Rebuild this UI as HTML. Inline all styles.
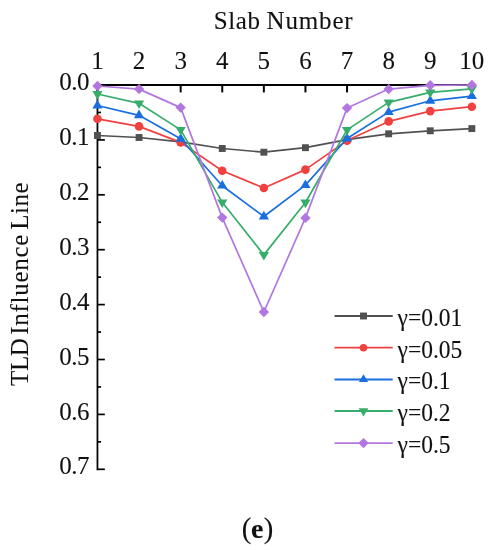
<!DOCTYPE html>
<html><head><meta charset="utf-8"><title>TLD Influence Line (e)</title>
<style>
html,body{margin:0;padding:0;background:#fff;}
body{width:491px;height:550px;position:relative;overflow:hidden;font-family:"Liberation Serif",serif;}
svg text{font-family:"Liberation Serif",serif;fill:#111;stroke:#111;stroke-width:0.1px;}
.tk{font-size:25px;}
.ti{font-size:25px;}
.ytk{font-size:25px;letter-spacing:-0.6px;}
.yl{font-size:25px;}
.lg{font-size:24.5px;}
.cap{font-size:28px;}
</style></head><body>
<svg width="491" height="550" viewBox="0 0 491 550" style="position:absolute;left:0;top:0">
<g stroke="#000" stroke-width="2" fill="none" stroke-linecap="butt">
<path d="M97.45 84.0 V470.15000000000003" stroke-width="1.75"/>
<path d="M96.45 85.0 H472.85"/>
<path d="M97.45 85.00 h7.4" stroke-width="1.7"/>
<path d="M97.45 112.45 h3.6" stroke-width="1.7"/>
<path d="M97.45 139.90 h7.4" stroke-width="1.7"/>
<path d="M97.45 167.35 h3.6" stroke-width="1.7"/>
<path d="M97.45 194.80 h7.4" stroke-width="1.7"/>
<path d="M97.45 222.25 h3.6" stroke-width="1.7"/>
<path d="M97.45 249.70 h7.4" stroke-width="1.7"/>
<path d="M97.45 277.15 h3.6" stroke-width="1.7"/>
<path d="M97.45 304.60 h7.4" stroke-width="1.7"/>
<path d="M97.45 332.05 h3.6" stroke-width="1.7"/>
<path d="M97.45 359.50 h7.4" stroke-width="1.7"/>
<path d="M97.45 386.95 h3.6" stroke-width="1.7"/>
<path d="M97.45 414.40 h7.4" stroke-width="1.7"/>
<path d="M97.45 441.85 h3.6" stroke-width="1.7"/>
<path d="M97.45 469.30 h7.4" stroke-width="1.7"/>
<path d="M97.45 85.0 v7.4"/>
<path d="M139.05 85.0 v7.4"/>
<path d="M180.65 85.0 v7.4"/>
<path d="M222.25 85.0 v7.4"/>
<path d="M263.85 85.0 v7.4"/>
<path d="M305.45 85.0 v7.4"/>
<path d="M347.05 85.0 v7.4"/>
<path d="M388.65 85.0 v7.4"/>
<path d="M430.25 85.0 v7.4"/>
<path d="M471.85 85.0 v7.4"/>
</g>
<polyline points="97.45,135.50 139.05,137.50 180.65,141.80 222.25,148.50 263.85,152.20 305.45,147.70 347.05,139.70 388.65,133.80 430.25,130.80 471.85,128.60" fill="none" stroke="#515151" stroke-width="1.7" stroke-linejoin="round"/>
<rect x="94.00" y="132.05" width="6.9" height="6.9" fill="#515151"/>
<rect x="135.60" y="134.05" width="6.9" height="6.9" fill="#515151"/>
<rect x="177.20" y="138.35" width="6.9" height="6.9" fill="#515151"/>
<rect x="218.80" y="145.05" width="6.9" height="6.9" fill="#515151"/>
<rect x="260.40" y="148.75" width="6.9" height="6.9" fill="#515151"/>
<rect x="302.00" y="144.25" width="6.9" height="6.9" fill="#515151"/>
<rect x="343.60" y="136.25" width="6.9" height="6.9" fill="#515151"/>
<rect x="385.20" y="130.35" width="6.9" height="6.9" fill="#515151"/>
<rect x="426.80" y="127.35" width="6.9" height="6.9" fill="#515151"/>
<rect x="468.40" y="125.15" width="6.9" height="6.9" fill="#515151"/>
<polyline points="97.45,118.80 139.05,126.40 180.65,142.40 222.25,170.70 263.85,188.00 305.45,169.60 347.05,140.60 388.65,121.40 430.25,111.10 471.85,106.70" fill="none" stroke="#F14040" stroke-width="1.7" stroke-linejoin="round"/>
<circle cx="97.45" cy="118.80" r="4.30" fill="#F14040"/>
<circle cx="139.05" cy="126.40" r="4.30" fill="#F14040"/>
<circle cx="180.65" cy="142.40" r="4.30" fill="#F14040"/>
<circle cx="222.25" cy="170.70" r="4.30" fill="#F14040"/>
<circle cx="263.85" cy="188.00" r="4.30" fill="#F14040"/>
<circle cx="305.45" cy="169.60" r="4.30" fill="#F14040"/>
<circle cx="347.05" cy="140.60" r="4.30" fill="#F14040"/>
<circle cx="388.65" cy="121.40" r="4.30" fill="#F14040"/>
<circle cx="430.25" cy="111.10" r="4.30" fill="#F14040"/>
<circle cx="471.85" cy="106.70" r="4.30" fill="#F14040"/>
<polyline points="97.45,105.50 139.05,115.30 180.65,138.80 222.25,185.70 263.85,216.50 305.45,185.10 347.05,138.50 388.65,112.10 430.25,100.80 471.85,96.20" fill="none" stroke="#1A6FDF" stroke-width="1.7" stroke-linejoin="round"/>
<polygon points="97.45,99.80 92.35,108.40 102.55,108.40" fill="#1A6FDF"/>
<polygon points="139.05,109.60 133.95,118.20 144.15,118.20" fill="#1A6FDF"/>
<polygon points="180.65,133.10 175.55,141.70 185.75,141.70" fill="#1A6FDF"/>
<polygon points="222.25,180.00 217.15,188.60 227.35,188.60" fill="#1A6FDF"/>
<polygon points="263.85,210.80 258.75,219.40 268.95,219.40" fill="#1A6FDF"/>
<polygon points="305.45,179.40 300.35,188.00 310.55,188.00" fill="#1A6FDF"/>
<polygon points="347.05,132.80 341.95,141.40 352.15,141.40" fill="#1A6FDF"/>
<polygon points="388.65,106.40 383.55,115.00 393.75,115.00" fill="#1A6FDF"/>
<polygon points="430.25,95.10 425.15,103.70 435.35,103.70" fill="#1A6FDF"/>
<polygon points="471.85,90.50 466.75,99.10 476.95,99.10" fill="#1A6FDF"/>
<polyline points="97.45,94.00 139.05,103.30 180.65,129.90 222.25,202.30 263.85,254.90 305.45,202.50 347.05,129.90 388.65,102.40 430.25,92.30 471.85,88.90" fill="none" stroke="#37AD6B" stroke-width="1.7" stroke-linejoin="round"/>
<polygon points="97.45,99.70 92.35,91.10 102.55,91.10" fill="#37AD6B"/>
<polygon points="139.05,109.00 133.95,100.40 144.15,100.40" fill="#37AD6B"/>
<polygon points="180.65,135.60 175.55,127.00 185.75,127.00" fill="#37AD6B"/>
<polygon points="222.25,208.00 217.15,199.40 227.35,199.40" fill="#37AD6B"/>
<polygon points="263.85,260.60 258.75,252.00 268.95,252.00" fill="#37AD6B"/>
<polygon points="305.45,208.20 300.35,199.60 310.55,199.60" fill="#37AD6B"/>
<polygon points="347.05,135.60 341.95,127.00 352.15,127.00" fill="#37AD6B"/>
<polygon points="388.65,108.10 383.55,99.50 393.75,99.50" fill="#37AD6B"/>
<polygon points="430.25,98.00 425.15,89.40 435.35,89.40" fill="#37AD6B"/>
<polygon points="471.85,94.60 466.75,86.00 476.95,86.00" fill="#37AD6B"/>
<polyline points="97.45,86.00 139.05,89.10 180.65,107.60 222.25,217.60 263.85,312.00 305.45,217.90 347.05,108.10 388.65,89.10 430.25,85.30 471.85,85.00" fill="none" stroke="#B177DE" stroke-width="1.7" stroke-linejoin="round"/>
<polygon points="97.45,80.80 102.65,86.00 97.45,91.20 92.25,86.00" fill="#B177DE"/>
<polygon points="139.05,83.90 144.25,89.10 139.05,94.30 133.85,89.10" fill="#B177DE"/>
<polygon points="180.65,102.40 185.85,107.60 180.65,112.80 175.45,107.60" fill="#B177DE"/>
<polygon points="222.25,212.40 227.45,217.60 222.25,222.80 217.05,217.60" fill="#B177DE"/>
<polygon points="263.85,306.80 269.05,312.00 263.85,317.20 258.65,312.00" fill="#B177DE"/>
<polygon points="305.45,212.70 310.65,217.90 305.45,223.10 300.25,217.90" fill="#B177DE"/>
<polygon points="347.05,102.90 352.25,108.10 347.05,113.30 341.85,108.10" fill="#B177DE"/>
<polygon points="388.65,83.90 393.85,89.10 388.65,94.30 383.45,89.10" fill="#B177DE"/>
<polygon points="430.25,80.10 435.45,85.30 430.25,90.50 425.05,85.30" fill="#B177DE"/>
<polygon points="471.85,79.80 477.05,85.00 471.85,90.20 466.65,85.00" fill="#B177DE"/>
<path d="M334.5 316.00 H392.7" stroke="#515151" stroke-width="1.8"/>
<rect x="360.05" y="312.55" width="6.9" height="6.9" fill="#515151"/>
<text transform="translate(397.6 325.9) scale(0.96 1)" class="lg">γ=0.01</text>
<path d="M334.5 347.70 H392.7" stroke="#F14040" stroke-width="1.8"/>
<circle cx="363.50" cy="347.70" r="3.78" fill="#F14040"/>
<text transform="translate(397.6 357.6) scale(0.96 1)" class="lg">γ=0.05</text>
<path d="M334.5 379.50 H392.7" stroke="#1A6FDF" stroke-width="1.8"/>
<polygon points="363.50,374.37 358.91,382.11 368.09,382.11" fill="#1A6FDF"/>
<text transform="translate(397.6 389.4) scale(0.96 1)" class="lg">γ=0.1</text>
<path d="M334.5 411.00 H392.7" stroke="#37AD6B" stroke-width="1.8"/>
<polygon points="363.50,416.42 358.65,408.25 368.35,408.25" fill="#37AD6B"/>
<text transform="translate(397.6 420.9) scale(0.96 1)" class="lg">γ=0.2</text>
<path d="M334.5 443.10 H392.7" stroke="#B177DE" stroke-width="1.8"/>
<polygon points="363.50,437.90 368.70,443.10 363.50,448.30 358.30,443.10" fill="#B177DE"/>
<text transform="translate(397.6 453.0) scale(0.96 1)" class="lg">γ=0.5</text>
<text x="97.45" y="68.5" class="tk" text-anchor="middle">1</text>
<text x="139.05" y="68.5" class="tk" text-anchor="middle">2</text>
<text x="180.65" y="68.5" class="tk" text-anchor="middle">3</text>
<text x="222.25" y="68.5" class="tk" text-anchor="middle">4</text>
<text x="263.85" y="68.5" class="tk" text-anchor="middle">5</text>
<text x="305.45" y="68.5" class="tk" text-anchor="middle">6</text>
<text x="347.05" y="68.5" class="tk" text-anchor="middle">7</text>
<text x="388.65" y="68.5" class="tk" text-anchor="middle">8</text>
<text x="430.25" y="68.5" class="tk" text-anchor="middle">9</text>
<text x="471.85" y="68.5" class="tk" text-anchor="middle">10</text>
<text x="88.8" y="90.10" class="ytk" text-anchor="end">0.0</text>
<text x="88.8" y="145.00" class="ytk" text-anchor="end">0.1</text>
<text x="88.8" y="199.90" class="ytk" text-anchor="end">0.2</text>
<text x="88.8" y="254.80" class="ytk" text-anchor="end">0.3</text>
<text x="88.8" y="309.70" class="ytk" text-anchor="end">0.4</text>
<text x="88.8" y="364.60" class="ytk" text-anchor="end">0.5</text>
<text x="88.8" y="419.50" class="ytk" text-anchor="end">0.6</text>
<text x="88.8" y="474.40" class="ytk" text-anchor="end">0.7</text>
<text y="29.2" class="ti"><tspan x="213.8" letter-spacing="0.6">Slab</tspan> <tspan x="266.5" letter-spacing="0.85">Number</tspan></text>
<text transform="translate(27.7 0) rotate(-90)" class="yl"><tspan x="-385.9" letter-spacing="-0.5">TLD</tspan> <tspan x="-334.8" letter-spacing="0.72">Influence</tspan> <tspan x="-229.8" letter-spacing="0.55">Line</tspan></text>
<text x="257.6" y="537.9" class="cap" text-anchor="middle"><tspan font-size="28.7px">(</tspan><tspan font-weight="bold" dx="-0.4">e</tspan><tspan font-size="28.7px" dx="0.4">)</tspan></text>
</svg>
</body></html>
